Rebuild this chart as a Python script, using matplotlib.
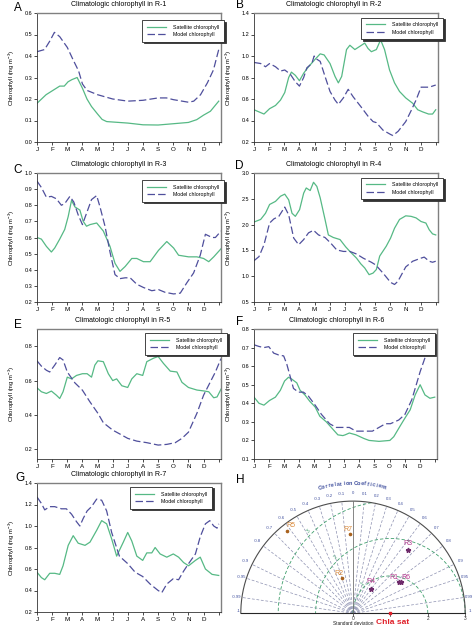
import numpy as np
import matplotlib
matplotlib.use('Agg')
import matplotlib.pyplot as plt
from matplotlib.ticker import FormatStrFormatter

plt.rcParams['font.family'] = ['Liberation Sans', 'DejaVu Sans']
plt.rcParams['mathtext.fontset'] = 'custom'
plt.rcParams['mathtext.rm'] = 'Liberation Sans'
plt.rcParams['mathtext.it'] = 'Liberation Sans:italic'

# ---------------- data ----------------
month_labels = ['J', 'F', 'M', 'A', 'M', 'J', 'J', 'A', 'S', 'O', 'N', 'D']
regions = ['R-1', 'R-2', 'R-3', 'R-4', 'R-5', 'R-6', 'R-7']
series_names = ['Satellite chlorophyll', 'Model chlorophyll']

A_sat_x = [0, 0.6, 1.05, 1.5, 1.8, 2.05, 2.3, 2.65, 3.0, 3.3, 3.6, 4.0, 4.3, 4.6, 5.0, 6.0, 7.0, 8.0, 9.0, 10.0, 10.55, 11.0, 11.45, 12.0]
A_sat_y = [0.18, 0.22, 0.24, 0.26, 0.26, 0.28, 0.29, 0.30, 0.25, 0.20, 0.165, 0.13, 0.105, 0.095, 0.093, 0.088, 0.08, 0.079, 0.085, 0.091, 0.104, 0.125, 0.143, 0.19]
A_mod_x = [0, 0.5, 0.85, 1.15, 1.5, 2.0, 2.4, 2.75, 3.0, 3.3, 4.0, 5.0, 6.0, 7.0, 8.0, 8.55, 9.0, 10.0, 10.35, 10.8, 11.25, 11.65, 12.0]
A_mod_y = [0.42, 0.43, 0.47, 0.51, 0.49, 0.44, 0.38, 0.33, 0.27, 0.24, 0.22, 0.20, 0.19, 0.194, 0.205, 0.205, 0.197, 0.185, 0.19, 0.22, 0.275, 0.335, 0.43]

B_sat_x = [0, 0.33, 0.66, 1.03, 1.42, 1.75, 2.03, 2.29, 2.47, 2.73, 3.0, 3.28, 3.6, 4.04, 4.37, 4.63, 5.02, 5.35, 5.57, 5.79, 6.11, 6.33, 6.66, 6.99, 7.31, 7.53, 7.75, 8.08, 8.36, 8.62, 8.95, 9.28, 9.61, 10.02, 10.48, 10.81, 11.14, 11.53, 11.79, 12.0]
B_sat_y = [0.50, 0.48, 0.46, 0.51, 0.54, 0.59, 0.66, 0.80, 0.85, 0.82, 0.77, 0.84, 0.90, 0.97, 1.02, 1.01, 0.93, 0.81, 0.75, 0.81, 1.06, 1.10, 1.06, 1.09, 1.12, 1.07, 1.04, 1.06, 1.15, 1.06, 0.87, 0.75, 0.67, 0.61, 0.56, 0.50, 0.48, 0.46, 0.46, 0.50]
B_mod_x = [0, 0.44, 0.76, 1.03, 1.42, 1.75, 2.03, 2.4, 2.73, 3.0, 3.28, 3.49, 3.82, 3.97, 4.15, 4.37, 4.69, 5.02, 5.35, 5.57, 5.9, 6.22, 6.55, 7.05, 7.53, 7.86, 8.08, 8.52, 9.02, 9.17, 9.52, 10.02, 10.37, 10.7, 11.03, 11.57, 12.0]
B_mod_y = [0.94, 0.93, 0.90, 0.93, 0.90, 0.86, 0.87, 0.83, 0.76, 0.72, 0.80, 0.89, 0.93, 1.00, 0.97, 0.95, 0.81, 0.67, 0.59, 0.55, 0.61, 0.69, 0.62, 0.53, 0.44, 0.39, 0.38, 0.31, 0.27, 0.26, 0.30, 0.39, 0.49, 0.59, 0.71, 0.71, 0.73]

C_sat_x = [0, 0.29, 0.62, 0.95, 1.17, 1.5, 1.83, 2.06, 2.28, 2.5, 2.83, 3.05, 3.27, 3.5, 3.94, 4.38, 4.82, 5.15, 5.48, 5.82, 6.26, 6.59, 7.03, 7.47, 8.02, 8.57, 9.02, 9.35, 10.01, 10.56, 11.0, 11.34, 11.67, 12.15]
C_sat_y = [0.60, 0.59, 0.545, 0.51, 0.535, 0.59, 0.65, 0.73, 0.83, 0.79, 0.77, 0.70, 0.67, 0.68, 0.69, 0.64, 0.545, 0.44, 0.39, 0.42, 0.47, 0.47, 0.45, 0.45, 0.52, 0.575, 0.535, 0.49, 0.48, 0.48, 0.47, 0.45, 0.48, 0.53]
C_mod_x = [0, 0.29, 0.62, 0.95, 1.28, 1.61, 1.83, 2.17, 2.43, 2.72, 3.0, 3.27, 3.6, 3.94, 4.16, 4.49, 4.82, 5.15, 5.48, 5.82, 6.15, 6.59, 7.03, 7.58, 8.02, 8.46, 9.02, 9.46, 9.9, 10.34, 10.78, 11.12, 11.56, 11.78, 12.15]
C_mod_y = [0.95, 0.91, 0.85, 0.855, 0.84, 0.80, 0.81, 0.855, 0.82, 0.74, 0.68, 0.75, 0.835, 0.86, 0.79, 0.67, 0.51, 0.37, 0.345, 0.35, 0.35, 0.31, 0.29, 0.27, 0.277, 0.26, 0.25, 0.255, 0.32, 0.38, 0.49, 0.62, 0.60, 0.60, 0.64]

D_sat_x = [0, 0.44, 0.76, 1.03, 1.42, 1.75, 2.03, 2.29, 2.51, 2.73, 3.01, 3.28, 3.45, 3.71, 3.93, 4.15, 4.37, 4.69, 4.91, 5.24, 5.68, 6.05, 6.33, 6.77, 7.05, 7.31, 7.6, 7.86, 8.08, 8.3, 8.73, 9.02, 9.28, 9.61, 10.02, 10.37, 10.7, 11.03, 11.35, 11.57, 11.79, 12.0]
D_sat_y = [2.05, 2.1, 2.22, 2.39, 2.45, 2.55, 2.59, 2.48, 2.22, 2.16, 2.29, 2.61, 2.71, 2.66, 2.82, 2.74, 2.52, 2.10, 1.80, 1.75, 1.71, 1.57, 1.48, 1.35, 1.24, 1.16, 1.03, 1.06, 1.13, 1.39, 1.58, 1.74, 1.93, 2.10, 2.17, 2.16, 2.13, 2.06, 2.03, 1.90, 1.82, 1.80]
D_mod_x = [0, 0.33, 0.66, 1.03, 1.31, 1.64, 2.03, 2.29, 2.62, 2.95, 3.28, 3.6, 3.93, 4.26, 4.69, 5.07, 5.46, 5.9, 6.33, 6.77, 7.21, 7.75, 8.03, 8.52, 9.02, 9.28, 9.5, 10.02, 10.48, 11.03, 11.24, 11.57, 11.79, 12.0]
D_mod_y = [1.30, 1.38, 1.61, 2.03, 2.11, 2.16, 2.34, 2.19, 1.74, 1.61, 1.71, 1.84, 1.89, 1.80, 1.75, 1.64, 1.51, 1.48, 1.48, 1.43, 1.35, 1.27, 1.22, 1.06, 0.88, 0.84, 0.90, 1.18, 1.29, 1.35, 1.37, 1.29, 1.27, 1.29]

E_sat_x = [0, 0.29, 0.62, 0.95, 1.28, 1.5, 1.72, 2.0, 2.28, 2.61, 3.0, 3.31, 3.6, 3.82, 4.02, 4.38, 4.71, 5.0, 5.26, 5.6, 5.99, 6.26, 6.59, 6.98, 7.25, 7.69, 8.0, 8.35, 8.8, 9.24, 9.57, 10.0, 10.56, 11.0, 11.34, 11.67, 11.89, 12.15]
E_sat_y = [0.558, 0.535, 0.525, 0.539, 0.515, 0.496, 0.535, 0.62, 0.61, 0.63, 0.64, 0.64, 0.62, 0.69, 0.715, 0.71, 0.64, 0.60, 0.61, 0.57, 0.56, 0.61, 0.64, 0.63, 0.71, 0.73, 0.74, 0.70, 0.655, 0.65, 0.59, 0.56, 0.545, 0.54, 0.535, 0.50, 0.505, 0.55]
E_mod_x = [0, 0.29, 0.62, 0.84, 1.17, 1.5, 1.72, 2.0, 2.5, 3.0, 3.49, 4.02, 4.38, 5.0, 5.48, 5.99, 6.59, 7.25, 8.0, 8.57, 9.13, 9.57, 10.0, 10.56, 11.0, 11.45, 11.78, 12.15]
E_mod_y = [0.715, 0.684, 0.66, 0.65, 0.69, 0.734, 0.72, 0.65, 0.587, 0.544, 0.477, 0.41, 0.355, 0.312, 0.289, 0.264, 0.248, 0.239, 0.225, 0.229, 0.239, 0.264, 0.30, 0.41, 0.515, 0.593, 0.65, 0.728]

F_sat_x = [0, 0.33, 0.66, 1.03, 1.42, 1.75, 2.03, 2.29, 2.51, 2.84, 3.06, 3.38, 3.71, 4.06, 4.37, 4.8, 5.24, 5.57, 5.9, 6.05, 6.33, 6.77, 7.31, 7.64, 8.3, 9.02, 9.28, 9.72, 10.02, 10.37, 10.7, 11.03, 11.35, 11.68, 12.0]
F_sat_y = [0.433, 0.40, 0.39, 0.415, 0.433, 0.47, 0.52, 0.54, 0.53, 0.51, 0.47, 0.445, 0.41, 0.38, 0.33, 0.30, 0.26, 0.23, 0.226, 0.23, 0.24, 0.23, 0.21, 0.20, 0.195, 0.20, 0.22, 0.28, 0.32, 0.365, 0.445, 0.50, 0.445, 0.427, 0.433]
F_mod_x = [0, 0.33, 0.66, 0.98, 1.31, 1.64, 1.97, 2.18, 2.4, 2.62, 2.95, 3.28, 3.6, 4.06, 4.48, 5.02, 5.46, 5.9, 6.33, 6.77, 7.31, 7.86, 8.3, 8.73, 9.06, 9.61, 10.02, 10.48, 11.03, 11.46, 11.79, 12.0]
F_mod_y = [0.715, 0.706, 0.70, 0.705, 0.67, 0.66, 0.655, 0.61, 0.545, 0.48, 0.46, 0.46, 0.44, 0.39, 0.34, 0.29, 0.27, 0.27, 0.27, 0.25, 0.25, 0.25, 0.27, 0.29, 0.29, 0.31, 0.34, 0.42, 0.57, 0.67, 0.69, 0.68]

G_sat_x = [0, 0.29, 0.51, 0.84, 1.17, 1.5, 1.72, 2.06, 2.39, 2.72, 3.17, 3.5, 3.94, 4.27, 4.6, 4.93, 5.26, 5.7, 5.99, 6.26, 6.59, 6.98, 7.25, 7.58, 7.8, 8.13, 8.57, 9.0, 9.35, 9.68, 10.01, 10.46, 10.78, 11.12, 11.56, 12.0]
G_sat_y = [0.57, 0.52, 0.50, 0.56, 0.56, 0.55, 0.63, 0.82, 0.91, 0.84, 0.82, 0.85, 0.96, 1.05, 1.02, 0.88, 0.72, 0.85, 0.94, 0.86, 0.72, 0.68, 0.75, 0.75, 0.80, 0.74, 0.71, 0.74, 0.71, 0.66, 0.63, 0.68, 0.71, 0.60, 0.55, 0.54]
G_mod_x = [0, 0.29, 0.51, 0.84, 1.17, 1.61, 1.94, 2.28, 2.61, 2.83, 3.05, 3.31, 3.6, 3.94, 4.27, 4.6, 4.93, 5.44, 5.99, 6.48, 6.98, 7.47, 8.0, 8.24, 8.57, 9.0, 9.35, 9.68, 10.01, 10.46, 10.78, 11.12, 11.41, 11.67, 11.89, 12.0]
G_mod_y = [1.27, 1.21, 1.15, 1.18, 1.18, 1.16, 1.16, 1.11, 1.04, 1.00, 1.07, 1.14, 1.18, 1.25, 1.24, 1.14, 0.94, 0.72, 0.65, 0.57, 0.53, 0.46, 0.40, 0.38, 0.46, 0.51, 0.50, 0.58, 0.65, 0.74, 0.90, 1.02, 1.05, 1.00, 0.98, 1.02]

# Taylor diagram statistics
taylor_names = ['R1', 'R2', 'R3', 'R4', 'R5', 'R6', 'R7']
taylor_std = [1.48, 1.00, 2.24, 0.81, 2.82, 1.53, 2.11]
taylor_corr = [0.83, -0.30, 0.66, 0.58, -0.63, 0.836, -0.04]
ref_name = 'Chla sat'
ref_std = 1.0
corr_ticks = [0.1, 0.2, 0.3, 0.4, 0.5, 0.6, 0.7, 0.8, 0.9, 0.95, 0.99]
std_ticks = [0, 1, 2, 3]
rms_levels = [1, 2, 3]

# ---------------- figure ----------------
W, H = 474, 641
fig = plt.figure(figsize=(W / 100, H / 100), dpi=100)


def rect(l, t, r, b):
    return [l / W, 1 - b / H, (r - l) / W, (b - t) / H]


SAT_C = '#56b985'
MOD_C = '#4f4f9c'

panels = [
    dict(sx=A_sat_x, sy=A_sat_y, mx=A_mod_x, my=A_mod_y, box=(37, 13, 221, 142), ylim=(0, 0.6),
         yt=np.arange(0, 0.61, 0.1), letter='A', lpos=(18, 8), tpos=(119, 5), leg=(1.033, 0.965)),
    dict(sx=B_sat_x, sy=B_sat_y, mx=B_mod_x, my=B_mod_y, box=(254, 13, 438, 142), ylim=(0.2, 1.4),
         yt=np.arange(0.2, 1.41, 0.2), letter='B', lpos=(240, 5), tpos=(334, 5), leg=(1.043, 0.985)),
    dict(sx=C_sat_x, sy=C_sat_y, mx=C_mod_x, my=C_mod_y, box=(37, 173, 221, 302), ylim=(0.2, 1.0),
         yt=np.arange(0.2, 1.01, 0.1), letter='C', lpos=(18, 170), tpos=(119, 164), leg=(1.033, 0.965)),
    dict(sx=D_sat_x, sy=D_sat_y, mx=D_mod_x, my=D_mod_y, box=(254, 173, 438, 302), ylim=(0.5, 3.0),
         yt=np.arange(0.5, 3.01, 0.5), letter='D', lpos=(239, 166), tpos=(334, 164), leg=(1.043, 0.985)),
    dict(sx=E_sat_x, sy=E_sat_y, mx=E_mod_x, my=E_mod_y, box=(37, 329, 221, 459), ylim=(0.144, 0.9),
         yt=np.arange(0.2, 0.81, 0.2), letter='E', lpos=(18, 325), tpos=(123, 321), leg=(1.049, 0.99)),
    dict(sx=F_sat_x, sy=F_sat_y, mx=F_mod_x, my=F_mod_y, box=(254, 329, 437, 459), ylim=(0.1, 0.8),
         yt=np.arange(0.1, 0.81, 0.1), letter='F', lpos=(240, 322), tpos=(337, 320), leg=(1.003, 0.99)),
    dict(sx=G_sat_x, sy=G_sat_y, mx=G_mod_x, my=G_mod_y, box=(37, 483, 221, 612), ylim=(0.2, 1.4),
         yt=np.arange(0.2, 1.41, 0.2), letter='G', lpos=(20, 478), tpos=(119, 474), leg=(0.967, 0.99)),
]

for i, p in enumerate(panels):
    l, t, r, b = p['box']
    ax = fig.add_axes(rect(l, t, r, b))
    ax.plot(p['sx'], p['sy'], color=SAT_C, lw=0.9, label=series_names[0])
    ax.plot(p['mx'], p['my'], color=MOD_C, lw=0.9, ls=(0, (6, 2.5)), label=series_names[1])
    ax.set_xlim(0, 12.15)
    ax.set_ylim(*p['ylim'])
    ax.set_xticks(np.arange(0, 13))
    ax.set_xticklabels(month_labels + [''])
    ax.set_yticks(p['yt'])
    ax.yaxis.set_major_formatter(FormatStrFormatter('%.1f'))
    ax.tick_params(axis='x', labelsize=4.5, length=2, width=0.5, pad=1.5)
    ax.tick_params(axis='y', labelsize=4.0, length=2, width=0.5, pad=1.5)
    for s in ['left', 'bottom']:
        ax.spines[s].set_color('0.2')
        ax.spines[s].set_linewidth(0.6)
    for s in ['top', 'right']:
        ax.spines[s].set_color('0.5')
        ax.spines[s].set_linewidth(1.0)
    ax.set_ylabel('Chlorophyll (mg m$^{-3}$)', fontsize=4.2, labelpad=1)
    ax.yaxis.set_label_coords(-20 / (r - l), 0.5)
    fig.text(p['tpos'][0] / W, 1 - p['tpos'][1] / H, 'Climatologic chlorophyll in ' + regions[i],
             fontsize=5, ha='center', va='center')
    fig.text(p['lpos'][0] / W, 1 - p['lpos'][1] / H, p['letter'], fontsize=8.5, ha='center', va='center')
    leg = ax.legend(loc='upper right', bbox_to_anchor=p['leg'], fontsize=3.8, frameon=True,
                    fancybox=False, handlelength=3.6, handletextpad=1.4, borderpad=0.9,
                    labelspacing=0.45, shadow={'ox': 1.0, 'oy': -1.0, 'color': '0.2', 'alpha': 1.0})
    leg.get_frame().set_edgecolor('0.15')
    leg.get_frame().set_linewidth(0.6)

# ---------------- Taylor diagram (H) ----------------
fig.text(240 / W, 1 - 480 / H, 'H', fontsize=8.5, ha='center', va='center')
cx, cy, scale = 353, 613.3, 37.4
x0, x1 = 237, 474
y0, y1 = 470, 641
axH = fig.add_axes(rect(x0, y0, x1, y1))
axH.set_xlim((x0 - cx) / scale, (x1 - cx) / scale)
axH.set_ylim(-(y1 - cy) / scale, (cy - y0) / scale)
axH.axis('off')

Rmax = std_ticks[-1]
th = np.linspace(0, np.pi, 400)
BLUE = '#3c4c9c'
GRID = '#8c90b0'
GREEN = '#3f9f6c'

# radial correlation lines
for c in corr_ticks:
    for sgn in (1, -1):
        a = np.arccos(sgn * c)
        axH.plot([0, Rmax * np.cos(a)], [0, Rmax * np.sin(a)], color=GRID, lw=0.5, ls=(0, (4, 2.5)))
        lab = ('%g' % (sgn * c))
        rl = 3.2 if c < 0.95 else 3.14
        axH.text(rl * np.cos(a), rl * np.sin(a), lab, fontsize=3.1, color=BLUE,
                 ha='center', va='center')
axH.text(0, 3.22, '0', fontsize=3.1, color=BLUE, ha='center', va='center')
axH.text(3.11, 0.05, '1', fontsize=3.1, color=BLUE, ha='center', va='center')
axH.text(-3.05, 0.05, '-1', fontsize=3.1, color=BLUE, ha='center', va='center')

# RMS arcs around the reference point
for rr in rms_levels:
    xs = ref_std + rr * np.cos(th)
    ys = rr * np.sin(th)
    m = np.hypot(xs, ys) <= Rmax
    xs = np.where(m, xs, np.nan)
    axH.plot(xs, ys, color=GREEN, lw=0.6, ls=(0, (4, 2.5)))
    ang = np.radians(135)
    axH.text(ref_std + rr * np.cos(ang) - 0.05, rr * np.sin(ang) + 0.08, '%d' % rr,
             fontsize=3.5, color=GREEN, ha='center', va='center', rotation=45)

# frame
axH.plot(Rmax * np.cos(th), Rmax * np.sin(th), color='0.3', lw=0.8)
axH.plot([-Rmax, Rmax], [0, 0], color='0.15', lw=0.8)
axH.plot([0, 0], [0, Rmax], color='0.45', lw=0.6)

for s in std_ticks:
    axH.plot([s, s], [0, -0.06], color='0.15', lw=0.5)
    if s != ref_std:
        axH.text(s, -0.15, '%d' % s, fontsize=3.5, ha='center', va='center', color='0.2')
axH.text(0.0, -0.27, 'Standard deviation', fontsize=3.4, ha='center', va='center', color='0.1')
axH.text(1.06, -0.25, ref_name, fontsize=6, ha='center', va='center', color='#e0202a', fontweight='bold')
axH.plot([ref_std], [0], marker='s', ms=1.8, color='#e0202a', ls='none')

# curved title
title = 'Correlation Coefficient'
rt = 3.47
step = np.radians(1.32)
n = len(title)
for k, ch in enumerate(title):
    a = np.pi / 2 + (n / 2 - k - 0.5) * step
    axH.text(rt * np.cos(a), rt * np.sin(a), ch, fontsize=4, color=BLUE, fontweight='bold',
             ha='center', va='center', rotation=np.degrees(a) - 90)

# model points
label_off = {'R1': (-5, 5), 'R2': (-3, 4), 'R3': (0, 7), 'R4': (0, 7), 'R5': (4, 6), 'R6': (5, 4), 'R7': (-2, 5)}
for name, sd, cr in zip(taylor_names, taylor_std, taylor_corr):
    a = np.arccos(cr)
    px, py = sd * np.cos(a), sd * np.sin(a)
    if cr < 0 or name == 'R7':
        mk, mc, tc, ms = 'o', '#a8621e', '#d9893a', 1.6
    else:
        mk, mc, tc, ms = '*', '#6e2a6a', '#b4388e', 3.5
    axH.plot([px], [py], marker=mk, ms=ms, color=mc, ls='none')
    dx, dy = label_off[name]
    axH.annotate(name, (px, py), xytext=(dx, dy), textcoords='offset pixels', fontsize=5,
                 color=tc, ha='center', va='center')

fig.savefig('out.png', dpi=100)
